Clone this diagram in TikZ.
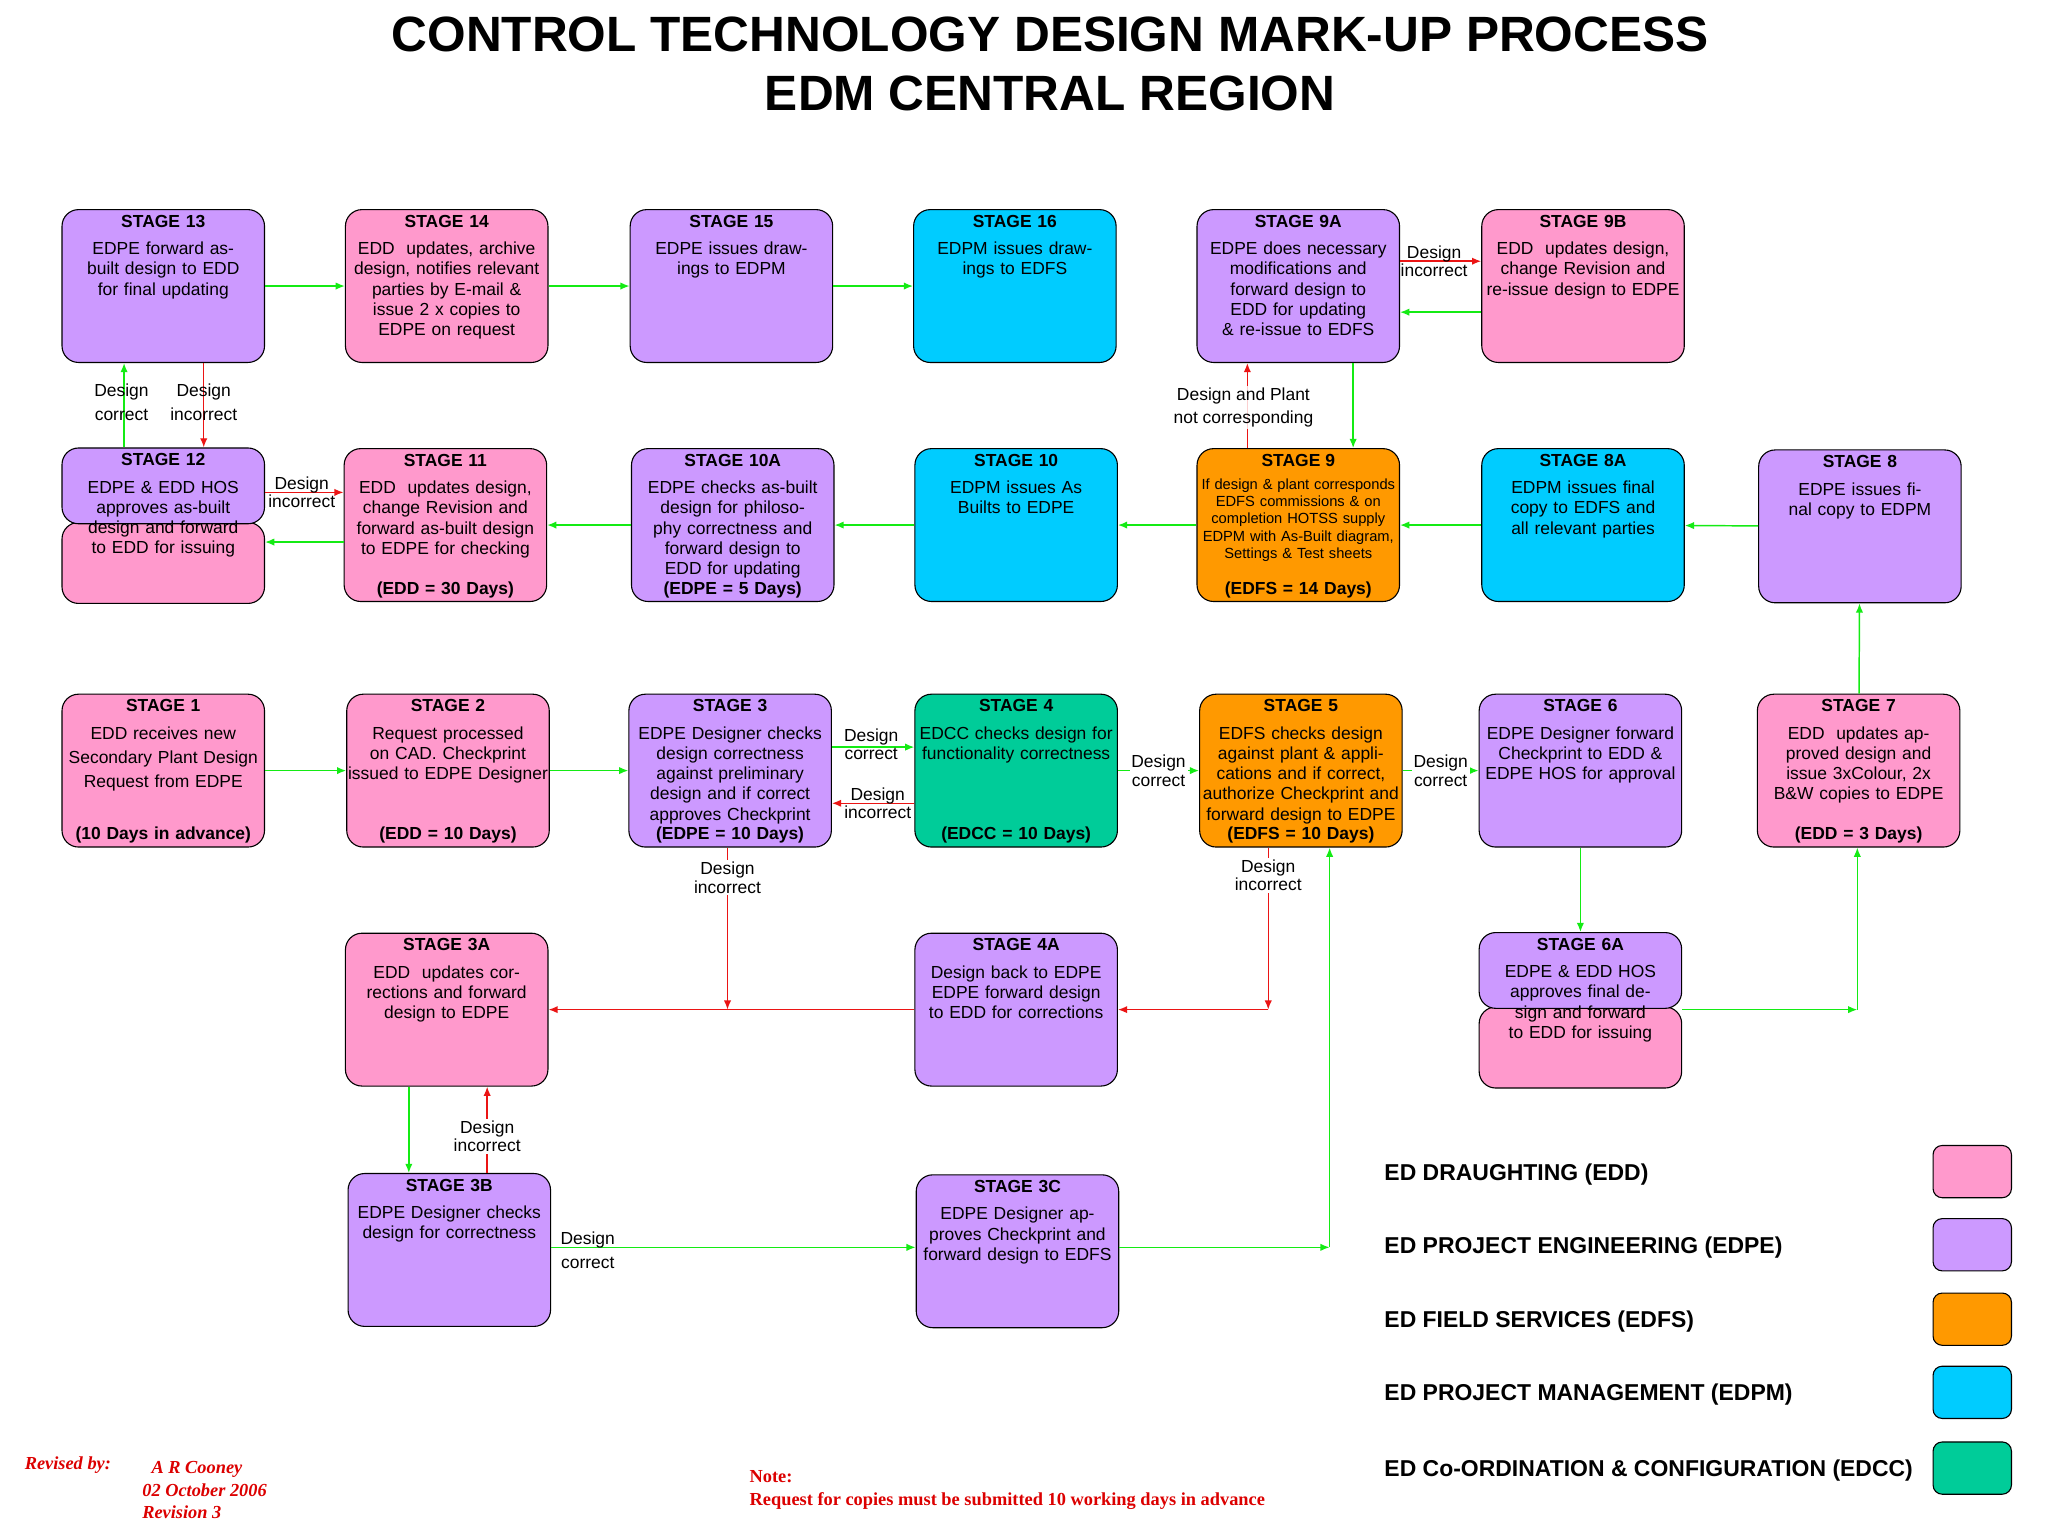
\documentclass[tikz,border=0pt]{standalone}
\usepackage{fontspec}
\setmainfont{Liberation Sans}
\newfontfamily\serifit{Liberation Serif}
\usetikzlibrary{arrows.meta,calc}
\definecolor{cpink}{RGB}{255,153,204}
\definecolor{cpurp}{RGB}{204,153,255}
\definecolor{corng}{RGB}{255,153,0}
\definecolor{ccyan}{RGB}{0,204,255}
\definecolor{cgrn}{RGB}{0,204,153}
\definecolor{garr}{RGB}{20,235,20}
\definecolor{rarr}{RGB}{235,20,20}
\definecolor{rtxt}{RGB}{220,0,0}
\tikzset{
 box/.style={draw,line width=0.6pt,rounded corners=9pt,minimum width=3.875cm,minimum height=2.925cm,inner sep=0},
 half/.style={draw,line width=0.6pt,rounded corners=9pt,minimum width=3.875cm,inner sep=0},
 txt/.style={align=center,text width=3.85cm,font=\fontsize{9.5}{11}\selectfont,inner sep=1pt},
 lbl/.style={align=center,font=\fontsize{9.5}{13}\selectfont,inner sep=1pt},
 ga/.style={draw=garr,line width=0.8pt,-{Latex[length=5pt,width=4pt]}},
 ra/.style={draw=rarr,line width=0.8pt,-{Latex[length=5pt,width=4pt]}},
 leg/.style={anchor=west,font=\bfseries\fontsize{12.5}{14}\selectfont},
 legbox/.style={draw,line width=0.6pt,rounded corners=5pt,minimum width=1.5cm,minimum height=1cm},
}
\newcommand\stg[7]{%
 \node[box,fill=#4] (#1) at (#2,#3) {};
 \node[txt,anchor=north] at ([yshift=-2pt]#1.north) {\textbf{#5}\\[4pt]#6};
 \node[txt,anchor=south] at ([yshift=1pt]#1.south) {\textbf{#7}};}
\newcommand\splitstg[5]{%
 \node[half,fill=cpink,minimum height=1.55cm] (#1b) at (#2,#3+29) {};
 \node[half,fill=cpurp,minimum height=1.45cm] (#1) at (#2,#3-30) {};
 \node[txt,anchor=north] at ([yshift=-2pt]#1.north) {\textbf{#4}\\[4pt]#5};}
\begin{document}
\begin{tikzpicture}[x=0.025cm,y=-0.025cm]
\useasboundingbox[fill=white] (0,0) rectangle (1568,1176);
\node[font=\bfseries\fontsize{27}{32}\selectfont,align=center] at (804,49) {CONTROL TECHNOLOGY DESIGN MARK-UP PROCESS\\EDM CENTRAL REGION};
% row 1
\stg{s13}{125}{219}{cpurp}{STAGE 13}{EDPE forward as-built design to EDD for final updating}{}
\stg{s14}{342}{219}{cpink}{STAGE 14}{EDD \ updates, archive design, notifies relevant parties by E-mail \& issue 2 x copies to EDPE on request}{}
\stg{s15}{560}{219}{cpurp}{STAGE 15}{EDPE issues drawings to EDPM}{}
\stg{s16}{777}{219}{ccyan}{STAGE 16}{EDPM issues drawings to EDFS}{}
\stg{s9a}{994}{219}{cpurp}{STAGE 9A}{EDPE does necessary modifications and forward design to EDD for updating \& re-issue to EDFS}{}
\stg{s9b}{1212}{219}{cpink}{STAGE 9B}{EDD \ updates design, change Revision and re-issue design to EDPE}{}
% row 2
\splitstg{s12}{125}{402}{STAGE 12}{EDPE \& EDD HOS approves as-built design and forward to EDD for issuing}
\stg{s11}{341}{402}{cpink}{STAGE 11}{EDD \ updates design, change Revision and forward as-built design to EDPE for checking}{(EDD = 30 Days)}
\stg{s10a}{561}{402}{cpurp}{STAGE 10A}{EDPE checks as-built design for philosophy correctness and forward design to EDD for updating}{(EDPE = 5 Days)}
\stg{s10}{778}{402}{ccyan}{STAGE 10}{EDPM issues As Builts to EDPE}{}
\node[box,fill=corng] (s9) at (994,402) {};
\node[txt,anchor=north,font=\fontsize{8}{9.5}\selectfont] at ([yshift=-2pt]s9.north) {\textbf{\fontsize{9.5}{11}\selectfont STAGE 9}\\[3pt]If design \& plant corresponds EDFS commissions \& on completion HOTSS supply EDPM with As-Built diagram, Settings \& Test sheets};
\node[txt,anchor=south] at ([yshift=1pt]s9.south) {\textbf{(EDFS = 14 Days)}};
\stg{s8a}{1212}{402}{ccyan}{STAGE 8A}{EDPM issues final copy to EDFS and all relevant parties}{}
\stg{s8}{1424}{403}{cpurp}{STAGE 8}{EDPE issues final copy to EDPM}{}
% row 3
\stg{s1}{125}{590}{cpink}{STAGE 1}{EDD receives new\\[2pt]Secondary Plant Design\\[2pt]Request from EDPE}{(10 Days in advance)\\[2pt]}
\stg{s2}{343}{590}{cpink}{STAGE 2}{Request processed on CAD. Checkprint issued to EDPE Designer}{(EDD = 10 Days)}
\stg{s3}{559}{590}{cpurp}{STAGE 3}{EDPE Designer checks design correctness against preliminary design and if correct approves Checkprint}{(EDPE = 10 Days)}
\stg{s4}{778}{590}{cgrn}{STAGE 4}{EDCC checks design for functionality correctness}{(EDCC = 10 Days)}
\stg{s5}{996}{590}{corng}{STAGE 5}{EDFS checks design against plant \& applications and if correct, authorize Checkprint and forward design to EDPE}{(EDFS = 10 Days)}
\stg{s6}{1210}{590}{cpurp}{STAGE 6}{EDPE Designer forward Checkprint to EDD \& EDPE HOS for approval}{}
\stg{s7}{1423}{590}{cpink}{STAGE 7}{EDD \ updates approved design and issue 3xColour, 2x B\&W copies to EDPE}{(EDD = 3 Days)\\[2pt]}
% row 4
\stg{s3a}{342}{773}{cpink}{STAGE 3A}{EDD \ updates corrections and forward design to EDPE}{}
\stg{s4a}{778}{773}{cpurp}{STAGE 4A}{Design back to EDPE EDPE forward design to EDD for corrections}{}
\splitstg{s6a}{1210}{773}{STAGE 6A}{EDPE \& EDD HOS approves final design and forward to EDD for issuing}
% row 5
\stg{s3b}{344}{957}{cpurp}{STAGE 3B}{EDPE Designer checks design for correctness}{}
\stg{s3c}{779}{958}{cpurp}{STAGE 3C}{EDPE Designer approves Checkprint and forward design to EDFS}{}
% helper coordinates
\foreach \n/\v in {a/200,b/239,c/377,d/415,e/572,f/615,g/773,h/955}{\coordinate (y\n) at (0,\v);}
\foreach \n/\v in {p/95,q/156,r/1036,s/955,t/557,u/971,v/1422,w/1018,m/313,n/373}{\coordinate (x\n) at (\v,0);}
% row1 arrows
\draw[ga] (s13) -- (s14); \draw[ga] (s14) -- (s15); \draw[ga] (s15) -- (s16);
\draw[ra] (s9a.east|-ya) -- (s9b.west|-ya);
\node[lbl] at (1098,200) {Design\\[-3pt]incorrect};
\draw[ga] (s9b.west|-yb) -- (s9a.east|-yb);
\draw[ga] (xr|-s9a.south) -- (xr|-s9.north);
\draw[ra] (xs|-s9.north) -- (xs|-s9a.south);
\node[lbl,fill=white,fill opacity=0.8,text opacity=1] at (952,312) {Design and Plant\\not corresponding};
\draw[ga] (xp|-s12.north) -- (xp|-s13.south);
\draw[ra] (xq|-s13.south) -- (xq|-s12.north);
\node[lbl] at (93,308) {Design\\correct};
\node[lbl] at (156,308) {Design\\incorrect};
% row2 arrows
\draw[ra] (s12.east|-yc) -- (s11.west|-yc);
\node[lbl] at (231,377) {Design\\[-3pt]incorrect};
\draw[ga] (s11.west|-yd) -- (s12b.east|-yd);
\draw[ga] (s10a) -- (s11); \draw[ga] (s10) -- (s10a); \draw[ga] (s9) -- (s10);
\draw[ga] (s8a) -- (s9); \draw[ga] (s8) -- (s8a);
% row3 arrows
\draw[ga] (s1) -- (s2); \draw[ga] (s2) -- (s3);
\draw[ga] (s3.east|-ye) -- (s4.west|-ye);
\node[lbl] at (667,570) {Design\\[-3pt]correct};
\draw[ra] (s4.west|-yf) -- (s3.east|-yf);
\node[lbl] at (672,615) {Design\\[-3pt]incorrect};
\draw[ga] (s4) -- (s5) node[midway,lbl,fill=white] {Design\\[-3pt]correct};
\draw[ga] (s5) -- (s6) node[midway,lbl,fill=white] {Design\\[-3pt]correct};
\draw[ga] (s6) -- (s6a);
\draw[ga] (s7) -- (s8);
% row 4 arrows
\draw[ra] (xt|-s3.south) -- (xt|-yg);
\node[lbl,fill=white] at (557,672) {Design\\[-3pt]incorrect};
\draw[ra] (s4a.west|-yg) -- (s3a.east|-yg);
\draw[ra] (xu|-s5.south) -- (xu|-yg);
\node[lbl,fill=white] at (971,670) {Design\\[-3pt]incorrect};
\draw[ra] (xu|-yg) -- (s4a.east|-yg);
\draw[ga] (s6ab.east|-yg) -- (xv|-yg);
\draw[ga] (xv|-yg) -- (xv|-s7.south);
% row 5 arrows
\draw[ga] (xm|-s3a.south) -- (xm|-s3b.north);
\draw[ra] (xn|-s3b.north) -- (xn|-s3a.south);
\node[lbl,fill=white] at (373,870) {Design\\[-3pt]incorrect};
\draw[ga] (s3b.east|-yh) -- (s3c.west|-yh);
\node[lbl] at (450,957) {Design\\correct};
\draw[ga] (s3c.east|-yh) -- (xw|-yh);
\draw[ga] (xw|-yh) -- (xw|-s5.south);
% legend
\foreach \t/\c/\y in {ED DRAUGHTING (EDD)/cpink/899,ED PROJECT ENGINEERING (EDPE)/cpurp/955,ED FIELD SERVICES (EDFS)/corng/1012,ED PROJECT MANAGEMENT (EDPM)/ccyan/1068,ED Co-ORDINATION \& CONFIGURATION (EDCC)/cgrn/1126}{
 \node[leg] at (1055,\y) {\t};
 \node[legbox,fill=\c] at (1510,\y-2) {};}
% footer
\node[anchor=west,text=rtxt,font=\serifit\bfseries\itshape\fontsize{10}{12}\selectfont] at (14,1122) {Revised by:};
\node[anchor=north west,align=left,text=rtxt,font=\serifit\bfseries\itshape\fontsize{10}{12.3}\selectfont] at (104,1114) {\ \ A R Cooney\\02 October 2006\\Revision 3};
\node[anchor=north west,align=left,text=rtxt,font=\serifit\bfseries\fontsize{10}{12.5}\selectfont] at (569,1121) {Note:\\Request for copies must be submitted 10 working days in advance};
\end{tikzpicture}
\end{document}
